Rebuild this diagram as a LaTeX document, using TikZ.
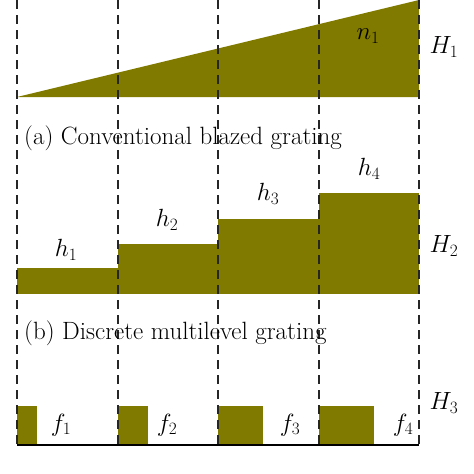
\documentclass[tikz,border=0pt]{standalone}
\begin{document}
\begin{tikzpicture}[x=1pt,y=-1pt,
  fillc/.style={fill=olivec,draw=none},
  guide/.style={draw=black!85,line width=1.6pt,dash pattern=on 9pt off 6pt},
  lbl/.style={font=\fontsize{26}{28}\selectfont,inner sep=0pt},
  captext/.style={font=\fontsize{25}{28}\selectfont,inner sep=0pt,anchor=west}]
\definecolor{olivec}{RGB}{128,122,0}
\useasboundingbox (0,0) rectangle (474,474);
% (a) blazed
\fill[fillc] (17,97) -- (419,0) -- (419,97) -- cycle;
% (b) steps
\fill[fillc] (17,268) rectangle (118,294);
\fill[fillc] (118,244) rectangle (218,294);
\fill[fillc] (218,219) rectangle (319,294);
\fill[fillc] (319,193) rectangle (419,294);
% (c) binary
\fill[fillc] (17,406) rectangle (37,445);
\fill[fillc] (118,406) rectangle (148,445);
\fill[fillc] (218,406) rectangle (263,445);
\fill[fillc] (319,406) rectangle (374,445);
% guides
\foreach \x/\n in {17/g0,118/g1,218/g2,319/g3,419/g4}{
  \coordinate (\n t) at (\x,0);
  \coordinate (\n b) at (\x,445);
  \draw[guide] (\n t) -- (\n b);
}
\draw[line width=1.3pt] (g0b) -- (g4b);
% labels
\node[lbl] (n1) at (368,36) {$n_1$};
\node[lbl] (H1) at (444,47) {$H_1$};
\node[captext] (capa) at (24,138) {(a) Conventional blazed grating};
\node[lbl] (h1) at (66,250) {$h_1$};
\node[lbl] (h2) at (167,220) {$h_2$};
\node[lbl] (h3) at (268,194) {$h_3$};
\node[lbl] (h4) at (369,169) {$h_4$};
\node[lbl] (H2) at (444,246) {$H_2$};
\node[captext] (capb) at (24,333) {(b) Discrete multilevel grating};
\node[lbl] (f1) at (61,425) {$f_1$};
\node[lbl] (f2) at (167,425) {$f_2$};
\node[lbl] (f3) at (290,425) {$f_3$};
\node[lbl] (f4) at (403,425) {$f_4$};
\node[lbl] (H3) at (444,403) {$H_3$};
\end{tikzpicture}
\end{document}
